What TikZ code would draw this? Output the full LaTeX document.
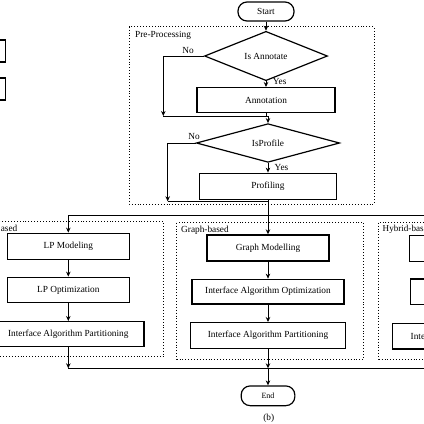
\documentclass[tikz,border=0pt]{standalone}
\usepackage{fontspec}
\setmainfont{Liberation Serif}
\usetikzlibrary{shapes.geometric,arrows.meta,calc}
\begin{document}
\begin{tikzpicture}[x=1pt,y=-1pt,
  every node/.style={font=\fontsize{9.3}{11}\selectfont, inner sep=0pt},
  proc/.style={draw, line width=1.4pt, inner sep=0pt},
  dec/.style={draw, diamond, line width=1.2pt, inner sep=0pt},
  term/.style={draw, rounded corners=9pt, line width=1.2pt},
  grp/.style={draw, dotted, line width=0.9pt},
  arr/.style={-{Stealth[length=5pt,width=4.5pt]}, line width=0.9pt},
  ln/.style={line width=0.9pt}]
\useasboundingbox (0,0) rectangle (424,424);
\clip (0,0) rectangle (424,424);
\fill[white] (0,0) rectangle (424,424);

% partial boxes at top-left
\node[proc, minimum width=60pt, minimum height=22pt] (pa) at (-24.7,51) {};
\node[proc, minimum width=60pt, minimum height=22pt] (pb) at (-24.3,89) {};

% pre-processing group
\draw[grp] (129.3,26.7) rectangle (374,204);
\node[anchor=west] (lpre) at (135,35.7) {Pre-Processing};

\node[term, minimum width=56pt, minimum height=19pt] (start) at (266,11.5) {Start};
\node[dec, minimum width=123pt, minimum height=40pt] (d1) at (266,56) {Is Annotate};
\node[proc, minimum width=137.7pt, minimum height=24.6pt] (ann) at (266,100) {Annotation};
\node[dec, minimum width=143.3pt, minimum height=38.3pt] (d2) at (268,143) {IsProfile};
\node[proc, minimum width=136.7pt, minimum height=26pt] (prof) at (268,186.3) {Profiling};

\coordinate (n1) at (163.3,116);
\coordinate (j1) at (268,116);
\coordinate (n2) at (167.7,201.3);
\coordinate (j2) at (268,201.3);
\coordinate (j3) at (268,215.7);
\coordinate (lpj) at (68.3,215.7);
\coordinate (re) at (430,215.7);

\draw[arr] (start) -- (d1);
\draw[arr] (d1.west) -| (n1);
\node (no1) at (188,50) {No};
\draw[arr] (d1.south) -- (ann.north);
\node (yes1) at (279.7,81.7) {Yes};
\draw[ln] (ann.south) -- (ann.south |- j1);
\draw[ln] (n1) -- (j1);
\draw[arr] (j1) -- (d2.north);
\draw[arr] (d2.west) -| (n2);
\node (no2) at (194,136.7) {No};
\draw[arr] (d2.south) -- (prof.north);
\node (yes2) at (281.5,167.3) {Yes};
\draw[ln] (n2) -- (j2);
\draw[ln] (prof.south) -- (j3);
\draw[ln] (lpj) -- (re);

% LP-based group
\draw[grp] (-30,221.7) rectangle (163.3,356.7);
\node[anchor=west] (llp) at (0.6,228) {ased};
\node[proc, minimum width=122pt, minimum height=26pt] (lpm) at (68.3,246.3) {LP Modeling};
\node[proc, minimum width=122pt, minimum height=25.4pt] (lpo) at (68.3,290) {LP Optimization};
\node[proc, minimum width=151.4pt, minimum height=25pt] (lpp) at (68.3,334.2) {Interface Algorithm Partitioning};

% Graph-based group
\draw[grp] (176.7,222.7) rectangle (363.7,359);
\node[anchor=west] (lgr) at (181,230) {Graph-based};
\node[proc, minimum width=122pt, minimum height=26pt] (gm) at (268,248) {Graph Modelling};
\node[proc, minimum width=152pt, minimum height=24.7pt] (go) at (268,291.7) {Interface Algorithm Optimization};
\node[proc, minimum width=155pt, minimum height=25.6pt] (gp) at (268,335.5) {Interface Algorithm Partitioning};

% Hybrid-based group
\draw[grp] (378.7,222.7) rectangle (600,359);
\node[anchor=west, font=\fontsize{9.1}{11}\selectfont] (lhy) at (382.5,229) {Hybrid-bas};
\node[proc, minimum width=122.6pt, minimum height=26pt] (hm) at (471,248.7) {};
\node[proc, minimum width=122pt, minimum height=25.3pt] (ho) at (471.3,291.7) {};
\node[proc, minimum width=155.4pt, minimum height=25.7pt] (hp) at (470,336.2) {};
\node[anchor=west] (lhp) at (410.5,336.2) {Inte};

\coordinate (lpb) at (68.3,368.3);
\coordinate (gb) at (268,368.3);
\coordinate (rb) at (430,368.3);

\draw[arr] (lpj) -- (lpm.north);
\draw[arr] (j3) -- (gm.north);
\draw[arr] (lpm) -- (lpo);
\draw[arr] (lpo) -- (lpp);
\draw[arr] (lpp.south) -- (lpb);
\draw[arr] (gm) -- (go);
\draw[arr] (go) -- (gp);
\draw[arr] (gp.south) -- (gb);
\draw[ln] (lpb) -- (rb);

\node[term, minimum width=53.7pt, minimum height=19.7pt, font=\fontsize{8}{10}\selectfont] (end) at (268,395.8) {End};
\draw[arr] (gb) -- (end.north);
\node (cap) at (268.7,418.3) {(b)};
\end{tikzpicture}
\end{document}
